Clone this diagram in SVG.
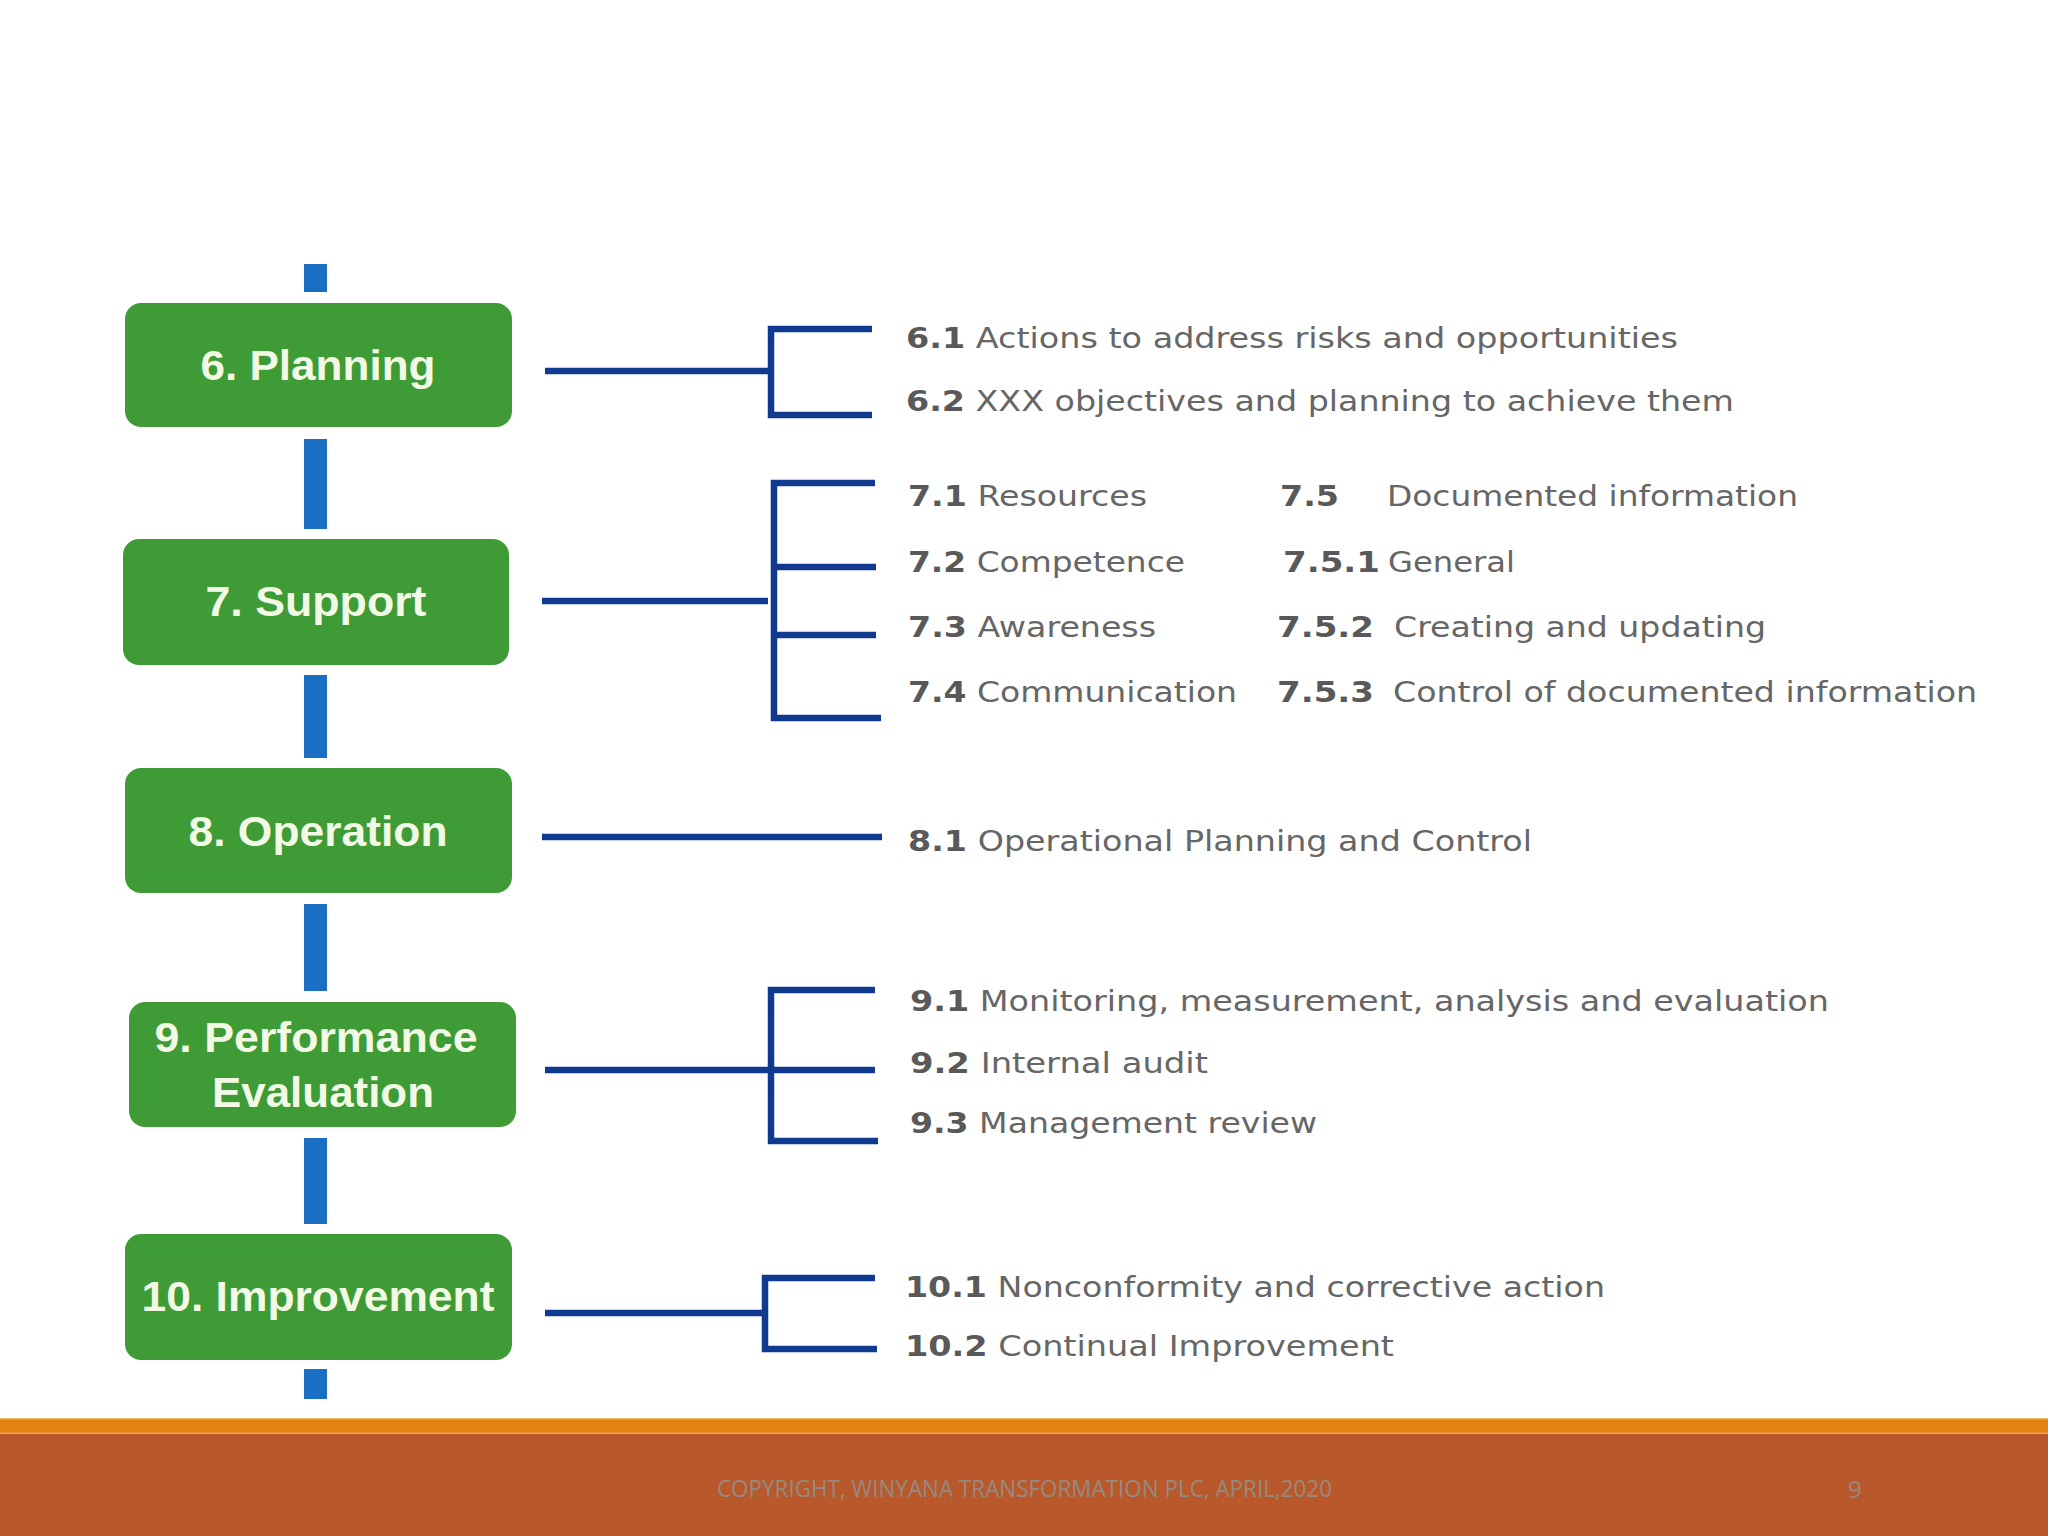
<svg xmlns="http://www.w3.org/2000/svg" width="2048" height="1536" viewBox="0 0 2048 1536">
<style>
.box{fill:#3f9b35}
.bar{fill:#1b6fc2}
.lbl{font-family:"Liberation Sans",Arial,sans-serif;font-weight:bold;font-size:43px;fill:#f2fae6;text-anchor:middle}
.con{fill:none;stroke:#103a8f;stroke-width:6.5;stroke-linejoin:miter;stroke-linecap:butt}
.t{font-family:"DejaVu Sans",Verdana,sans-serif;font-size:28px;fill:#666666}
.b{font-weight:bold;fill:#595959}
.foot{font-family:"Open Sans","Liberation Sans",sans-serif;font-size:24px;fill:#958a80}
</style>
<rect width="2048" height="1536" fill="#ffffff"/>

<g id="spine">
<rect class="bar" x="304" y="264" width="23" height="28"/>
<rect class="bar" x="304" y="439" width="23" height="90"/>
<rect class="bar" x="304" y="675" width="23" height="83"/>
<rect class="bar" x="304" y="904" width="23" height="87"/>
<rect class="bar" x="304" y="1138" width="23" height="86"/>
<rect class="bar" x="304" y="1369" width="23" height="30"/>
</g>

<g id="node-planning">
<rect class="box" x="125" y="303" width="387" height="124" rx="16"/>
<text class="lbl" x="318" y="380" textLength="235" lengthAdjust="spacingAndGlyphs">6. Planning</text>
</g>
<g id="node-support">
<rect class="box" x="123" y="539" width="386" height="126" rx="16"/>
<text class="lbl" x="316" y="616" textLength="221" lengthAdjust="spacingAndGlyphs">7. Support</text>
</g>
<g id="node-operation">
<rect class="box" x="125" y="768" width="387" height="125" rx="16"/>
<text class="lbl" x="318" y="846" textLength="259" lengthAdjust="spacingAndGlyphs">8. Operation</text>
</g>
<g id="node-performance">
<rect class="box" x="129" y="1002" width="387" height="125" rx="16"/>
<text class="lbl" x="316" y="1052" textLength="323" lengthAdjust="spacingAndGlyphs">9. Performance</text>
<text class="lbl" x="323" y="1107" textLength="222" lengthAdjust="spacingAndGlyphs">Evaluation</text>
</g>
<g id="node-improvement">
<rect class="box" x="125" y="1234" width="387" height="126" rx="16"/>
<text class="lbl" x="318" y="1311" textLength="353" lengthAdjust="spacingAndGlyphs">10. Improvement</text>
</g>

<g id="connectors">
<path class="con" d="M545,371 H771 M872,329 H771 V415 H872"/>
<path class="con" d="M542,601 H768 M875,483 H774 V718 H881 M774,567 H876 M774,635 H876"/>
<path class="con" d="M542,837 H882"/>
<path class="con" d="M545,1070 H875 M875,990 H771 V1141 H878"/>
<path class="con" d="M545,1313 H765 M875,1278 H765 V1349 H877"/>
</g>

<g id="items-6">
<text class="t" x="906" y="348" textLength="772" lengthAdjust="spacingAndGlyphs"><tspan class="b">6.1</tspan> Actions to address risks and opportunities</text>
<text class="t" x="906" y="411" textLength="828" lengthAdjust="spacingAndGlyphs"><tspan class="b">6.2</tspan> XXX objectives and planning to achieve them</text>
</g>

<g id="items-7">
<text class="t" x="908" y="506" textLength="239" lengthAdjust="spacingAndGlyphs"><tspan class="b">7.1</tspan> Resources</text>
<text class="t" x="908" y="572" textLength="277" lengthAdjust="spacingAndGlyphs"><tspan class="b">7.2</tspan> Competence</text>
<text class="t" x="908" y="637" textLength="248" lengthAdjust="spacingAndGlyphs"><tspan class="b">7.3</tspan> Awareness</text>
<text class="t" x="908" y="702" textLength="329" lengthAdjust="spacingAndGlyphs"><tspan class="b">7.4</tspan> Communication</text>
<text class="t b" x="1280" y="506" textLength="59" lengthAdjust="spacingAndGlyphs">7.5</text>
<text class="t" x="1387" y="506" textLength="411" lengthAdjust="spacingAndGlyphs">Documented information</text>
<text class="t b" x="1283" y="572" textLength="97" lengthAdjust="spacingAndGlyphs">7.5.1</text>
<text class="t" x="1388" y="572" textLength="127" lengthAdjust="spacingAndGlyphs">General</text>
<text class="t b" x="1277" y="637" textLength="97" lengthAdjust="spacingAndGlyphs">7.5.2</text>
<text class="t" x="1394" y="637" textLength="372" lengthAdjust="spacingAndGlyphs">Creating and updating</text>
<text class="t b" x="1277" y="702" textLength="97" lengthAdjust="spacingAndGlyphs">7.5.3</text>
<text class="t" x="1393" y="702" textLength="584" lengthAdjust="spacingAndGlyphs">Control of documented information</text>
</g>

<g id="items-8">
<text class="t" x="908" y="851" textLength="624" lengthAdjust="spacingAndGlyphs"><tspan class="b">8.1</tspan> Operational Planning and Control</text>
</g>

<g id="items-9">
<text class="t" x="910" y="1011" textLength="919" lengthAdjust="spacingAndGlyphs"><tspan class="b">9.1</tspan> Monitoring, measurement, analysis and evaluation</text>
<text class="t" x="910" y="1073" textLength="298" lengthAdjust="spacingAndGlyphs"><tspan class="b">9.2</tspan> Internal audit</text>
<text class="t" x="910" y="1133" textLength="407" lengthAdjust="spacingAndGlyphs"><tspan class="b">9.3</tspan> Management review</text>
</g>

<g id="items-10">
<text class="t" x="905" y="1297" textLength="700" lengthAdjust="spacingAndGlyphs"><tspan class="b">10.1</tspan> Nonconformity and corrective action</text>
<text class="t" x="905" y="1356" textLength="489" lengthAdjust="spacingAndGlyphs"><tspan class="b">10.2</tspan> Continual Improvement</text>
</g>

<g id="footer">
<rect x="0" y="1418" width="2048" height="15" fill="#e2830f"/>
<rect x="0" y="1418" width="2048" height="1.5" fill="#f3b560"/>
<rect x="0" y="1433" width="2048" height="103" fill="#b9592b"/>
<rect x="0" y="1432.5" width="2048" height="1.5" fill="#eea25a"/>
<text class="foot" x="717" y="1497" textLength="615" lengthAdjust="spacingAndGlyphs">COPYRIGHT, WINYANA TRANSFORMATION PLC, APRIL,2020</text>
<text class="foot" x="1848" y="1498">9</text>
</g>
</svg>
